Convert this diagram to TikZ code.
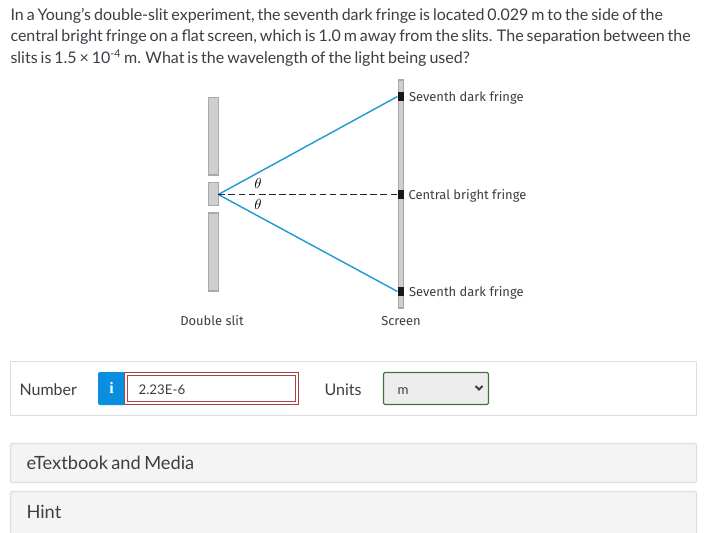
\documentclass[tikz,border=0pt]{standalone}
\usepackage{fontspec}
\setmainfont[WordSpace=0.72]{Lato}
\newfontfamily\figfont{Fira Sans}
\newfontfamily\iconfont{Liberation Serif}
\definecolor{rayblue}{HTML}{1C9AD6}
\definecolor{wallgray}{HTML}{CFCFD1}
\definecolor{walledge}{HTML}{A9A9AB}
\definecolor{inkgray}{HTML}{3A3F45}
\definecolor{panelline}{HTML}{DEDEDE}
\definecolor{panelfill}{HTML}{F4F4F4}
\definecolor{badred}{HTML}{A94442}
\definecolor{okgreen}{HTML}{3C763D}
\definecolor{infoblue}{HTML}{0A8FE0}
\begin{document}
\begin{tikzpicture}[x=0.75pt, y=-0.75pt, thick,
    wall/.style = {draw=walledge, fill=wallgray, line width=0.8pt},
    fringe/.style = {fill=black!90, draw=none, minimum width=4.5pt, minimum height=6.75pt, inner sep=0pt},
    ray/.style = {draw=rayblue, line width=1.05pt},
    figlabel/.style = {font=\figfont\fontsize{9.7}{11}\selectfont, text=inkgray, inner sep=0pt},
    para/.style = {font=\fontsize{12}{14}\selectfont, text=inkgray, anchor=base west, inner sep=0pt},
    formlabel/.style = {font=\fontsize{12}{14}\selectfont, text=inkgray, anchor=base west, inner sep=0pt},
    barlabel/.style = {font=\fontsize{13.7}{16}\selectfont, text=inkgray, anchor=base west, inner sep=0pt},
    panel/.style = {draw=panelline, line width=0.9pt},
    barpanel/.style = {panel, fill=panelfill, rounded corners=1.5pt}]
    \useasboundingbox (0,0) rectangle (717,532);
    \clip (0,0) rectangle (717,532);
    \fill[white] (0,0) rectangle (717,532);
    % question text
    \node[para] (line1) at (10,20) {In a Young's double-slit experiment, the seventh dark fringe is located 0.029 m to the side of the};
    \node[para] (line2) at (10,41.5) {central bright fringe on a flat screen, which is 1.0 m away from the slits. The separation between the};
    \node[para] (line3) at (10,63) {slits is 1.5 × 10\textsuperscript{-4} m. What is the wavelength of the light being used?};
    % double slit and screen
    \draw[wall] (208.5,97.5) rectangle (218.3,175);
    \draw[wall] (208.5,182.7) rectangle (218.3,205.5);
    \draw[wall] (208.5,213) rectangle (218.3,291);
    \draw[wall] (398.8,80) rectangle (403.3,308);
    \coordinate (slit) at (218.3,194.5);
    \node[fringe] (top) at (401,96.5) {};
    \node[fringe] (mid) at (401,194.5) {};
    \node[fringe] (bot) at (401,291.5) {};
    \draw[ray] (slit) -- (top.west);
    \draw[ray] (slit) -- (bot.west);
    \draw[black!85, line width=0.8pt, dash pattern=on 5pt off 2.6pt] (slit) -- (mid.west);
    \node[inner sep=0pt, font=\fontsize{10.5}{11}\selectfont] (th1) at (258,183.5) {$\theta$};
    \node[inner sep=0pt, font=\fontsize{10.5}{11}\selectfont] (th2) at (258,204) {$\theta$};
    \node[figlabel, anchor=west] (lab1) at (408.5,98) {Seventh dark fringe};
    \node[figlabel, anchor=west] (lab2) at (408,196) {Central bright fringe};
    \node[figlabel, anchor=west] (lab3) at (408.5,292.5) {Seventh dark fringe};
    \node[figlabel] (lab4) at (212,321) {Double slit};
    \node[figlabel] (lab5) at (401,321) {Screen};
    % answer row
    \draw[panel] (10.5,361.5) rectangle (696.5,415.5);
    \node[formlabel] (number) at (19,395) {Number};
    \fill[infoblue, rounded corners=1.5pt] (98,372) rectangle (126,405);
    \node[font=\iconfont\bfseries\fontsize{12}{12}\selectfont, text=white, inner sep=0pt] (info) at (111.5,387.5) {i};
    \draw[badred, fill=white, line width=0.8pt] (124.5,372.5) rectangle (298.5,404.5);
    \draw[badred, line width=0.8pt] (127.5,375.5) rectangle (295.5,401.5);
    \node[font=\fontsize{10}{12}\selectfont, text=inkgray, anchor=base west, inner sep=0pt] (value) at (138,394) {2.23E-6};
    \node[formlabel] (units) at (324,395) {Units};
    \draw[okgreen, fill=black!7, rounded corners=1pt, line width=0.8pt] (383.5,372.5) rectangle (488.5,404.5);
    \node[font=\fontsize{10}{12}\selectfont, text=inkgray, anchor=base west, inner sep=0pt] (unit) at (397,394) {m};
    \draw[inkgray, line width=1.5pt] (475.5,386) -- (479,389.5) -- (482.5,386);
    % collapsed bars
    \draw[barpanel] (10.5,443.5) rectangle (696.5,482.5);
    \node[barlabel] (media) at (26,469) {eTextbook and Media};
    \draw[barpanel] (10.5,491.5) rectangle (696.5,545);
    \node[barlabel] (hint) at (26,518) {Hint};
\end{tikzpicture}
\end{document}
